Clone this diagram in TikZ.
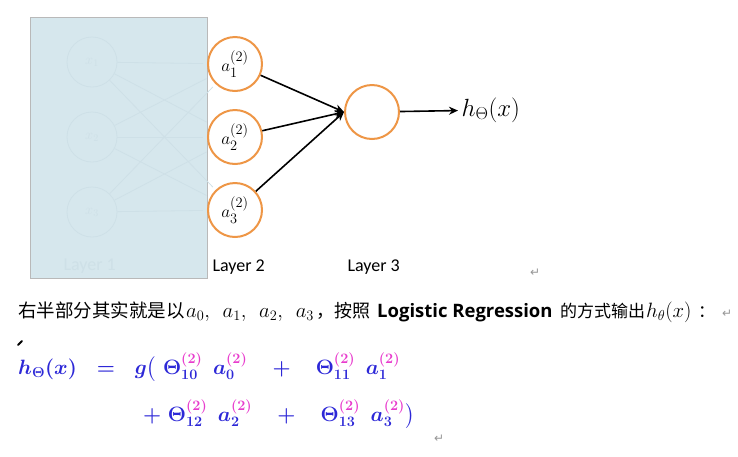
\documentclass[tikz,border=0pt]{standalone}
\usepackage{fontspec}
\usepackage{amsmath}
\usetikzlibrary{arrows.meta}
\newfontfamily\cjkfont{Noto Sans CJK SC}
\newfontfamily\layerfont{Carlito}
\newfontfamily\boldsans{Open Sans}
\newfontfamily\symbfont{DejaVu Sans}
\definecolor{slideblue}{RGB}{214,231,237}
\definecolor{nodeorange}{RGB}{238,150,70}
\definecolor{inkblue}{RGB}{45,40,215}
\definecolor{inkpink}{RGB}{232,60,205}
\definecolor{markgray}{RGB}{150,150,150}
\definecolor{ghost}{RGB}{206,224,231}
\newcommand\inksup[1]{{\color{inkpink}(#1)}}

\begin{document}
\begin{tikzpicture}[x=1pt, y=-1pt]
  \tikzset{
      unit/.style={circle, draw=nodeorange, line width=2pt, minimum size=54pt, inner sep=0pt, fill=white, font=\fontsize{19}{21}\selectfont},
      ghostunit/.style={circle, draw=ghost, line width=0.8pt, minimum size=50pt, inner sep=0pt, text=ghost, font=\fontsize{14}{16}\selectfont},
      wire/.style={-{Stealth[length=9pt, width=8pt]}, line width=1.6pt},
      ghostwire/.style={draw=ghost, line width=0.8pt, shorten >=4pt},
      layerlabel/.style={font=\layerfont\fontsize{18}{20}\selectfont, anchor=base west},
      textpiece/.style={anchor=base west, inner sep=0pt, font=\fontsize{18.5}{20}\selectfont},
      inkline/.style={anchor=base west, inner sep=0pt, text=inkblue, font=\fontsize{21}{23}\selectfont\boldmath},
      retmark/.style={anchor=base west, inner sep=0pt, text=markgray, font=\symbfont\fontsize{12}{14}\selectfont}
  }
  \useasboundingbox (0,0) rectangle (738,456);

  % panel over layer 1
  \draw[draw=gray!55, fill=slideblue, line width=1pt] (30,17) rectangle (207,278);

  % layer 2
  \node[unit] (a1) at (235,64)  {$a^{(2)}_1$};
  \node[unit] (a2) at (235,137) {$a^{(2)}_2$};
  \node[unit] (a3) at (235,210) {$a^{(2)}_3$};

  % faded layer 1
  \node[ghostunit] (x1) at (92,62)  {$x_1$};
  \node[ghostunit] (x2) at (92,137) {$x_2$};
  \node[ghostunit] (x3) at (92,212) {$x_3$};
  \foreach \i in {1,2,3}
    \foreach \j in {1,2,3}
      \draw[ghostwire] (x\i) -- (a\j);
  \node[layerlabel, text=ghost] (l1) at (60,270) {Layer 1};

  % layer 3
  \node[unit] (out) at (372,112) {};
  \node[anchor=west, font=\fontsize{26}{28}\selectfont] (h) at (458,110) {$h_\Theta(x)$};
  \foreach \j in {1,2,3}
    \draw[wire] (a\j) -- (out.west);
  \draw[wire] (out) -- (h);

  \node[layerlabel] (l2) at (209,271) {Layer 2};
  \node[layerlabel] (l3) at (344,271) {Layer 3};
  \node[retmark] (r1) at (530,276) {↵};

  % sentence
  \node[textpiece, font=\cjkfont\fontsize{18.5}{20}\selectfont] (s1) at (18,317) {右半部分其实就是以};
  \node[textpiece, font=\fontsize{21}{22}\selectfont] (s2) at (186,317) {$a_0,\;\, a_1,\;\, a_2,\;\, a_3$};
  \node[textpiece, font=\cjkfont\fontsize{18}{20}\selectfont] (s3) at (316,317) {，按照};
  \node[textpiece, font=\boldsans\bfseries\fontsize{18.5}{20}\selectfont] (s4) at (377,317) {Logistic Regression};
  \node[textpiece, font=\cjkfont\fontsize{17}{20}\selectfont] (s5) at (560,317) {的方式输出};
  \node[textpiece, font=\fontsize{21}{22}\selectfont] (s6) at (646,317) {$h_\theta(x)$};
  \node[textpiece, font=\cjkfont\fontsize{17}{20}\selectfont] (s7) at (698,317) {：};
  \node[retmark] (r2) at (722,317) {↵};

  % handwritten formula
  \draw[line width=2pt, line cap=round] (18,345) -- (22,341);
  \node[inkline] (f1) at (18,374) {$h_\Theta(x) \;\;=\;\; g\big(\;\Theta^{\inksup{2}}_{10}\;\, a^{\inksup{2}}_{0} \;\;\;+\;\;\; \Theta^{\inksup{2}}_{11}\;\, a^{\inksup{2}}_{1}$};
  \node[inkline] (f2) at (143,421) {$+\;\Theta^{\inksup{2}}_{12}\;\, a^{\inksup{2}}_{2} \;\;\;+\;\;\; \Theta^{\inksup{2}}_{13}\;\, a^{\inksup{2}}_{3}\big)$};
  \node[retmark] (r3) at (434,442) {↵};
\end{tikzpicture}
\end{document}
